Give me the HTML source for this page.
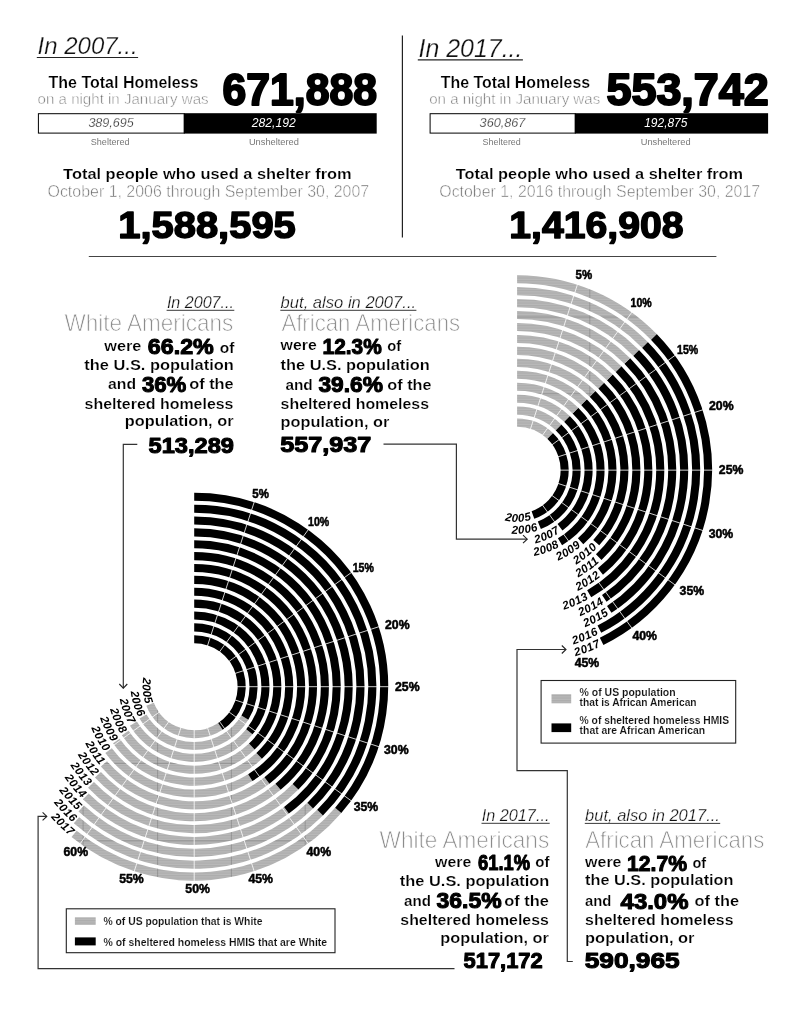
<!DOCTYPE html>
<html><head><meta charset="utf-8"><title>Homelessness 2007 vs 2017</title>
<style>html,body{margin:0;padding:0;background:#fff}body{width:805px;height:1024px;overflow:hidden;font-family:"Liberation Sans", sans-serif}svg{display:block;will-change:transform}text{white-space:pre}</style>
</head><body>
<svg width="805" height="1024" viewBox="0 0 805 1024" font-family='"Liberation Sans", sans-serif'>
<defs><pattern id="hatch" patternUnits="userSpaceOnUse" width="8" height="2.5"><rect width="8" height="2.5" fill="#b9b9b9"/><rect y="0" width="8" height="1.2" fill="#acacac"/></pattern></defs>
<rect x="0.00" y="0.00" width="805.00" height="1024.00" fill="#fff"/>
<text x="37.60" y="54.00" font-size="23.4" font-weight="normal" font-style="italic" fill="#111" textLength="100.00" lengthAdjust="spacingAndGlyphs" stroke="#fff" stroke-width="0.25" stroke-linejoin="round">In 2007...</text>
<line x1="36.80" y1="57.50" x2="138.10" y2="57.50" stroke="#222" stroke-width="1.1"/>
<text x="48.60" y="88.00" font-size="15.6" font-weight="bold" textLength="149.80" lengthAdjust="spacingAndGlyphs" stroke="#fff" stroke-width="0.2" stroke-linejoin="round">The Total Homeless</text>
<text x="37.60" y="103.60" font-size="15.5" font-weight="normal" fill="#6c6c6c" textLength="171.00" lengthAdjust="spacingAndGlyphs" stroke="#fff" stroke-width="0.55" stroke-linejoin="round">on a night in January was</text>
<text x="222.60" y="104.70" font-size="43.6" font-weight="bold" textLength="154.40" lengthAdjust="spacingAndGlyphs" stroke="#000" stroke-width="2.0" stroke-linejoin="round">671,888</text>
<rect x="38.40" y="113.70" width="145.90" height="19.40" fill="#fff" stroke="#000" stroke-width="1"/>
<rect x="183.80" y="113.20" width="192.90" height="20.40" fill="#000"/>
<text x="88.40" y="127.00" font-size="12.2" font-weight="normal" font-style="italic" fill="#222" textLength="45.40" lengthAdjust="spacingAndGlyphs" stroke="#fff" stroke-width="0.25" stroke-linejoin="round">389,695</text>
<text x="251.70" y="127.40" font-size="12.5" font-weight="normal" font-style="italic" fill="#fff" textLength="44.00" lengthAdjust="spacingAndGlyphs">282,192</text>
<text x="90.80" y="145.00" font-size="8.8" font-weight="normal" fill="#777" textLength="38.70" lengthAdjust="spacingAndGlyphs">Sheltered</text>
<text x="248.90" y="145.00" font-size="8.8" font-weight="normal" fill="#777" textLength="50.00" lengthAdjust="spacingAndGlyphs">Unsheltered</text>
<text x="63.10" y="179.20" font-size="15.3" font-weight="bold" textLength="288.60" lengthAdjust="spacingAndGlyphs" stroke="#fff" stroke-width="0.2" stroke-linejoin="round">Total people who used a shelter from</text>
<text x="47.50" y="197.30" font-size="16" font-weight="normal" fill="#6c6c6c" textLength="321.70" lengthAdjust="spacingAndGlyphs" stroke="#fff" stroke-width="0.55" stroke-linejoin="round">October 1, 2006 through September 30, 2007</text>
<text x="118.20" y="237.70" font-size="37.8" font-weight="bold" textLength="177.60" lengthAdjust="spacingAndGlyphs" stroke="#000" stroke-width="1.5" stroke-linejoin="round">1,588,595</text>
<text x="418.60" y="56.70" font-size="26" font-weight="normal" font-style="italic" fill="#111" textLength="103.80" lengthAdjust="spacingAndGlyphs" stroke="#fff" stroke-width="0.25" stroke-linejoin="round">In 2017...</text>
<line x1="417.80" y1="59.90" x2="522.90" y2="59.90" stroke="#222" stroke-width="1.1"/>
<text x="440.80" y="88.00" font-size="15.6" font-weight="bold" textLength="149.30" lengthAdjust="spacingAndGlyphs" stroke="#fff" stroke-width="0.2" stroke-linejoin="round">The Total Homeless</text>
<text x="429.20" y="103.60" font-size="15.5" font-weight="normal" fill="#6c6c6c" textLength="171.00" lengthAdjust="spacingAndGlyphs" stroke="#fff" stroke-width="0.55" stroke-linejoin="round">on a night in January was</text>
<text x="606.50" y="104.70" font-size="43.6" font-weight="bold" textLength="162.20" lengthAdjust="spacingAndGlyphs" stroke="#000" stroke-width="2.0" stroke-linejoin="round">553,742</text>
<rect x="430.10" y="113.70" width="145.20" height="19.40" fill="#fff" stroke="#000" stroke-width="1"/>
<rect x="574.80" y="113.20" width="193.30" height="20.40" fill="#000"/>
<text x="479.60" y="127.00" font-size="12.2" font-weight="normal" font-style="italic" fill="#222" textLength="45.80" lengthAdjust="spacingAndGlyphs" stroke="#fff" stroke-width="0.25" stroke-linejoin="round">360,867</text>
<text x="644.20" y="127.40" font-size="12.5" font-weight="normal" font-style="italic" fill="#fff" textLength="43.20" lengthAdjust="spacingAndGlyphs">192,875</text>
<text x="482.60" y="145.00" font-size="8.8" font-weight="normal" fill="#777" textLength="38.20" lengthAdjust="spacingAndGlyphs">Sheltered</text>
<text x="640.70" y="145.00" font-size="8.8" font-weight="normal" fill="#777" textLength="50.00" lengthAdjust="spacingAndGlyphs">Unsheltered</text>
<text x="455.80" y="179.20" font-size="15.3" font-weight="bold" textLength="287.30" lengthAdjust="spacingAndGlyphs" stroke="#fff" stroke-width="0.2" stroke-linejoin="round">Total people who used a shelter from</text>
<text x="439.30" y="197.30" font-size="16" font-weight="normal" fill="#6c6c6c" textLength="320.80" lengthAdjust="spacingAndGlyphs" stroke="#fff" stroke-width="0.55" stroke-linejoin="round">October 1, 2016 through September 30, 2017</text>
<text x="509.30" y="237.70" font-size="37.8" font-weight="bold" textLength="174.30" lengthAdjust="spacingAndGlyphs" stroke="#000" stroke-width="1.5" stroke-linejoin="round">1,416,908</text>
<line x1="402.40" y1="35.50" x2="402.40" y2="237.50" stroke="#222" stroke-width="1.2"/>
<line x1="88.80" y1="256.50" x2="716.40" y2="256.50" stroke="#444" stroke-width="1.2"/>
<path d="M220.38,726.28A47.45,47.45 0 0 1 150.08,704.17" fill="none" stroke="url(#hatch)" stroke-width="8.1"/>
<path d="M244.88,717.54A59.32,59.32 0 0 1 142.95,716.57" fill="none" stroke="url(#hatch)" stroke-width="8.1"/>
<path d="M249.34,731.73A71.19,71.19 0 0 1 133.38,723.71" fill="none" stroke="url(#hatch)" stroke-width="8.1"/>
<path d="M251.81,746.53A83.06,83.06 0 0 1 125.21,732.95" fill="none" stroke="url(#hatch)" stroke-width="8.1"/>
<path d="M259.18,755.90A94.93,94.93 0 0 1 116.36,741.04" fill="none" stroke="url(#hatch)" stroke-width="8.1"/>
<path d="M250.29,777.59A106.80,106.80 0 0 1 108.59,750.56" fill="none" stroke="url(#hatch)" stroke-width="8.1"/>
<path d="M266.93,780.47A118.67,118.67 0 0 1 103.96,763.77" fill="none" stroke="url(#hatch)" stroke-width="8.1"/>
<path d="M278.04,786.76A130.54,130.54 0 0 1 97.93,774.86" fill="none" stroke="url(#hatch)" stroke-width="8.1"/>
<path d="M295.53,786.76A142.41,142.41 0 0 1 91.00,784.84" fill="none" stroke="url(#hatch)" stroke-width="8.1"/>
<path d="M286.44,810.37A154.28,154.28 0 0 1 85.80,796.48" fill="none" stroke="url(#hatch)" stroke-width="8.1"/>
<path d="M310.20,805.65A166.15,166.15 0 0 1 81.23,808.53" fill="none" stroke="url(#hatch)" stroke-width="8.1"/>
<path d="M320.08,812.58A178.02,178.02 0 0 1 76.47,820.23" fill="none" stroke="url(#hatch)" stroke-width="8.1"/>
<path d="M338.21,810.48A189.89,189.89 0 0 1 74.08,833.77" fill="none" stroke="url(#hatch)" stroke-width="8.1"/>
<path d="M194.20,639.25A47.45,47.45 0 0 1 220.38,726.28" fill="none" stroke="#000" stroke-width="8.1"/>
<path d="M194.20,627.38A59.32,59.32 0 0 1 244.88,717.54" fill="none" stroke="#000" stroke-width="8.1"/>
<path d="M194.20,615.51A71.19,71.19 0 0 1 249.34,731.73" fill="none" stroke="#000" stroke-width="8.1"/>
<path d="M194.20,603.64A83.06,83.06 0 0 1 251.81,746.53" fill="none" stroke="#000" stroke-width="8.1"/>
<path d="M194.20,591.77A94.93,94.93 0 0 1 259.18,755.90" fill="none" stroke="#000" stroke-width="8.1"/>
<path d="M194.20,579.90A106.80,106.80 0 0 1 250.29,777.59" fill="none" stroke="#000" stroke-width="8.1"/>
<path d="M194.20,568.03A118.67,118.67 0 0 1 266.93,780.47" fill="none" stroke="#000" stroke-width="8.1"/>
<path d="M194.20,556.16A130.54,130.54 0 0 1 278.04,786.76" fill="none" stroke="#000" stroke-width="8.1"/>
<path d="M194.20,544.29A142.41,142.41 0 0 1 295.53,786.76" fill="none" stroke="#000" stroke-width="8.1"/>
<path d="M194.20,532.42A154.28,154.28 0 0 1 286.44,810.37" fill="none" stroke="#000" stroke-width="8.1"/>
<path d="M194.20,520.55A166.15,166.15 0 0 1 310.20,805.65" fill="none" stroke="#000" stroke-width="8.1"/>
<path d="M194.20,508.68A178.02,178.02 0 0 1 320.08,812.58" fill="none" stroke="#000" stroke-width="8.1"/>
<path d="M194.20,496.81A189.89,189.89 0 0 1 338.21,810.48" fill="none" stroke="#000" stroke-width="8.1"/>
<mask id="tm1" maskUnits="userSpaceOnUse" x="0" y="0" width="805" height="1024">
<path d="M220.38,726.28A47.45,47.45 0 0 1 150.08,704.17" fill="none" stroke="#fff" stroke-width="8.1"/>
<path d="M244.88,717.54A59.32,59.32 0 0 1 142.95,716.57" fill="none" stroke="#fff" stroke-width="8.1"/>
<path d="M249.34,731.73A71.19,71.19 0 0 1 133.38,723.71" fill="none" stroke="#fff" stroke-width="8.1"/>
<path d="M251.81,746.53A83.06,83.06 0 0 1 125.21,732.95" fill="none" stroke="#fff" stroke-width="8.1"/>
<path d="M259.18,755.90A94.93,94.93 0 0 1 116.36,741.04" fill="none" stroke="#fff" stroke-width="8.1"/>
<path d="M250.29,777.59A106.80,106.80 0 0 1 108.59,750.56" fill="none" stroke="#fff" stroke-width="8.1"/>
<path d="M266.93,780.47A118.67,118.67 0 0 1 103.96,763.77" fill="none" stroke="#fff" stroke-width="8.1"/>
<path d="M278.04,786.76A130.54,130.54 0 0 1 97.93,774.86" fill="none" stroke="#fff" stroke-width="8.1"/>
<path d="M295.53,786.76A142.41,142.41 0 0 1 91.00,784.84" fill="none" stroke="#fff" stroke-width="8.1"/>
<path d="M286.44,810.37A154.28,154.28 0 0 1 85.80,796.48" fill="none" stroke="#fff" stroke-width="8.1"/>
<path d="M310.20,805.65A166.15,166.15 0 0 1 81.23,808.53" fill="none" stroke="#fff" stroke-width="8.1"/>
<path d="M320.08,812.58A178.02,178.02 0 0 1 76.47,820.23" fill="none" stroke="#fff" stroke-width="8.1"/>
<path d="M338.21,810.48A189.89,189.89 0 0 1 74.08,833.77" fill="none" stroke="#fff" stroke-width="8.1"/>
</mask>
<g mask="url(#tm1)" stroke="#777" stroke-width="0.9" stroke-opacity="0.55">
<line x1="83.1" y1="486.70000000000005" x2="83.1" y2="886.7"/>
<line x1="157.6" y1="486.70000000000005" x2="157.6" y2="886.7"/>
<line x1="231.4" y1="486.70000000000005" x2="231.4" y2="886.7"/>
<line x1="305.2" y1="486.70000000000005" x2="305.2" y2="886.7"/>
<line x1="-5.800000000000011" y1="763.4" x2="394.2" y2="763.4"/>
<line x1="-5.800000000000011" y1="840.9" x2="394.2" y2="840.9"/>
</g>
<line x1="207.18" y1="646.76" x2="254.77" y2="500.29" stroke="#fff" stroke-width="1" stroke-opacity="0.8"/>
<line x1="218.89" y1="652.72" x2="309.41" y2="528.13" stroke="#fff" stroke-width="1" stroke-opacity="0.8"/>
<line x1="228.18" y1="662.01" x2="352.77" y2="571.49" stroke="#fff" stroke-width="1" stroke-opacity="0.8"/>
<line x1="234.14" y1="673.72" x2="380.61" y2="626.13" stroke="#fff" stroke-width="1" stroke-opacity="0.8"/>
<line x1="236.20" y1="686.70" x2="390.20" y2="686.70" stroke="#fff" stroke-width="1" stroke-opacity="0.8"/>
<line x1="234.14" y1="699.68" x2="380.61" y2="747.27" stroke="#fff" stroke-width="1" stroke-opacity="0.8"/>
<line x1="228.18" y1="711.39" x2="352.77" y2="801.91" stroke="#fff" stroke-width="1" stroke-opacity="0.8"/>
<line x1="218.89" y1="720.68" x2="309.41" y2="845.27" stroke="#fff" stroke-width="1" stroke-opacity="0.8"/>
<line x1="207.18" y1="726.64" x2="254.77" y2="873.11" stroke="#fff" stroke-width="1" stroke-opacity="0.8"/>
<line x1="194.20" y1="728.70" x2="194.20" y2="882.70" stroke="#fff" stroke-width="1" stroke-opacity="0.8"/>
<line x1="181.22" y1="726.64" x2="133.63" y2="873.11" stroke="#fff" stroke-width="1" stroke-opacity="0.8"/>
<line x1="169.51" y1="720.68" x2="78.99" y2="845.27" stroke="#fff" stroke-width="1" stroke-opacity="0.8"/>
<line x1="160.22" y1="711.39" x2="35.63" y2="801.91" stroke="#fff" stroke-width="1" stroke-opacity="0.8"/>
<path id="yp1" d="M149.39,661.13A51.59,51.59 0 0 0 145.80,704.57" fill="none"/>
<text font-size="11.5" font-weight="bold" font-style="italic" letter-spacing="0.45" text-anchor="end"><textPath href="#yp1" startOffset="100%">2005</textPath></text>
<path id="yp2" d="M132.01,674.08A63.46,63.46 0 0 0 138.78,717.62" fill="none"/>
<text font-size="11.5" font-weight="bold" font-style="italic" letter-spacing="0.45" text-anchor="end"><textPath href="#yp2" startOffset="100%">2006</textPath></text>
<path id="yp3" d="M119.04,681.68A75.33,75.33 0 0 0 129.23,724.83" fill="none"/>
<text font-size="11.5" font-weight="bold" font-style="italic" letter-spacing="0.45" text-anchor="end"><textPath href="#yp3" startOffset="100%">2007</textPath></text>
<path id="yp4" d="M107.16,692.00A87.20,87.20 0 0 0 121.11,734.26" fill="none"/>
<text font-size="11.5" font-weight="bold" font-style="italic" letter-spacing="0.45" text-anchor="end"><textPath href="#yp4" startOffset="100%">2008</textPath></text>
<path id="yp5" d="M96.14,700.83A99.07,99.07 0 0 0 112.29,742.42" fill="none"/>
<text font-size="11.5" font-weight="bold" font-style="italic" letter-spacing="0.45" text-anchor="end"><textPath href="#yp5" startOffset="100%">2009</textPath></text>
<path id="yp6" d="M86.04,711.39A110.94,110.94 0 0 0 104.56,752.07" fill="none"/>
<text font-size="11.5" font-weight="bold" font-style="italic" letter-spacing="0.45" text-anchor="end"><textPath href="#yp6" startOffset="100%">2010</textPath></text>
<path id="yp7" d="M78.04,726.57A122.81,122.81 0 0 0 100.04,765.54" fill="none"/>
<text font-size="11.5" font-weight="bold" font-style="italic" letter-spacing="0.45" text-anchor="end"><textPath href="#yp7" startOffset="100%">2011</textPath></text>
<path id="yp8" d="M70.07,738.95A134.68,134.68 0 0 0 94.07,776.77" fill="none"/>
<text font-size="11.5" font-weight="bold" font-style="italic" letter-spacing="0.45" text-anchor="end"><textPath href="#yp8" startOffset="100%">2012</textPath></text>
<path id="yp9" d="M61.92,749.79A146.55,146.55 0 0 0 87.18,786.82" fill="none"/>
<text font-size="11.5" font-weight="bold" font-style="italic" letter-spacing="0.45" text-anchor="end"><textPath href="#yp9" startOffset="100%">2013</textPath></text>
<path id="yp10" d="M55.18,762.66A158.42,158.42 0 0 0 82.04,798.58" fill="none"/>
<text font-size="11.5" font-weight="bold" font-style="italic" letter-spacing="0.45" text-anchor="end"><textPath href="#yp10" startOffset="100%">2014</textPath></text>
<path id="yp11" d="M49.18,775.97A170.29,170.29 0 0 0 77.53,810.75" fill="none"/>
<text font-size="11.5" font-weight="bold" font-style="italic" letter-spacing="0.45" text-anchor="end"><textPath href="#yp11" startOffset="100%">2015</textPath></text>
<path id="yp12" d="M43.30,788.74A182.16,182.16 0 0 0 72.84,822.54" fill="none"/>
<text font-size="11.5" font-weight="bold" font-style="italic" letter-spacing="0.45" text-anchor="end"><textPath href="#yp12" startOffset="100%">2016</textPath></text>
<path id="yp13" d="M39.48,803.79A194.03,194.03 0 0 0 70.54,836.21" fill="none"/>
<text font-size="11.5" font-weight="bold" font-style="italic" letter-spacing="0.45" text-anchor="end"><textPath href="#yp13" startOffset="100%">2017</textPath></text>
<text x="252.30" y="497.70" font-size="12" font-weight="bold" textLength="16.60" lengthAdjust="spacingAndGlyphs" stroke="#000" stroke-width="0.5" stroke-linejoin="round">5%</text>
<text x="308.00" y="525.50" font-size="12" font-weight="bold" textLength="21.20" lengthAdjust="spacingAndGlyphs" stroke="#000" stroke-width="0.5" stroke-linejoin="round">10%</text>
<text x="352.70" y="572.20" font-size="12" font-weight="bold" textLength="21.20" lengthAdjust="spacingAndGlyphs" stroke="#000" stroke-width="0.5" stroke-linejoin="round">15%</text>
<text x="385.00" y="628.80" font-size="12" font-weight="bold" textLength="24.60" lengthAdjust="spacingAndGlyphs" stroke="#000" stroke-width="0.5" stroke-linejoin="round">20%</text>
<text x="395.00" y="690.90" font-size="12" font-weight="bold" textLength="24.60" lengthAdjust="spacingAndGlyphs" stroke="#000" stroke-width="0.5" stroke-linejoin="round">25%</text>
<text x="384.00" y="754.10" font-size="12" font-weight="bold" textLength="24.60" lengthAdjust="spacingAndGlyphs" stroke="#000" stroke-width="0.5" stroke-linejoin="round">30%</text>
<text x="353.70" y="811.20" font-size="12" font-weight="bold" textLength="24.60" lengthAdjust="spacingAndGlyphs" stroke="#000" stroke-width="0.5" stroke-linejoin="round">35%</text>
<text x="306.50" y="855.90" font-size="12" font-weight="bold" textLength="24.60" lengthAdjust="spacingAndGlyphs" stroke="#000" stroke-width="0.5" stroke-linejoin="round">40%</text>
<text x="248.40" y="883.20" font-size="12" font-weight="bold" textLength="24.60" lengthAdjust="spacingAndGlyphs" stroke="#000" stroke-width="0.5" stroke-linejoin="round">45%</text>
<text x="185.30" y="893.20" font-size="12" font-weight="bold" textLength="24.60" lengthAdjust="spacingAndGlyphs" stroke="#000" stroke-width="0.5" stroke-linejoin="round">50%</text>
<text x="119.20" y="883.20" font-size="12" font-weight="bold" textLength="24.60" lengthAdjust="spacingAndGlyphs" stroke="#000" stroke-width="0.5" stroke-linejoin="round">55%</text>
<text x="63.50" y="855.90" font-size="12" font-weight="bold" textLength="24.60" lengthAdjust="spacingAndGlyphs" stroke="#000" stroke-width="0.5" stroke-linejoin="round">60%</text>
<path d="M550.08,435.90A47.55,47.55 0 0 1 532.93,514.99" fill="none" stroke="#000" stroke-width="8.1"/>
<path d="M558.48,427.40A59.50,59.50 0 0 1 539.35,525.33" fill="none" stroke="#000" stroke-width="8.1"/>
<path d="M566.93,418.94A71.45,71.45 0 0 1 560.00,527.29" fill="none" stroke="#000" stroke-width="8.1"/>
<path d="M575.42,410.53A83.40,83.40 0 0 1 560.00,541.67" fill="none" stroke="#000" stroke-width="8.1"/>
<path d="M583.96,402.16A95.35,95.35 0 0 1 580.60,541.28" fill="none" stroke="#000" stroke-width="8.1"/>
<path d="M592.53,393.84A107.30,107.30 0 0 1 596.24,542.61" fill="none" stroke="#000" stroke-width="8.1"/>
<path d="M601.16,385.56A119.25,119.25 0 0 1 598.73,557.08" fill="none" stroke="#000" stroke-width="8.1"/>
<path d="M609.82,377.33A131.20,131.20 0 0 1 600.41,571.50" fill="none" stroke="#000" stroke-width="8.1"/>
<path d="M618.53,369.14A143.15,143.15 0 0 1 589.19,593.82" fill="none" stroke="#000" stroke-width="8.1"/>
<path d="M627.29,361.00A155.10,155.10 0 0 1 604.28,598.43" fill="none" stroke="#000" stroke-width="8.1"/>
<path d="M636.08,352.90A167.05,167.05 0 0 1 609.25,609.48" fill="none" stroke="#000" stroke-width="8.1"/>
<path d="M644.93,344.84A179.00,179.00 0 0 1 599.36,629.13" fill="none" stroke="#000" stroke-width="8.1"/>
<path d="M653.81,336.84A190.95,190.95 0 0 1 601.64,641.36" fill="none" stroke="#000" stroke-width="8.1"/>
<path d="M517.10,422.60A47.55,47.55 0 0 1 550.08,435.90" fill="none" stroke="url(#hatch)" stroke-width="8.1"/>
<path d="M517.10,410.65A59.50,59.50 0 0 1 558.48,427.40" fill="none" stroke="url(#hatch)" stroke-width="8.1"/>
<path d="M517.10,398.70A71.45,71.45 0 0 1 566.93,418.94" fill="none" stroke="url(#hatch)" stroke-width="8.1"/>
<path d="M517.10,386.75A83.40,83.40 0 0 1 575.42,410.53" fill="none" stroke="url(#hatch)" stroke-width="8.1"/>
<path d="M517.10,374.80A95.35,95.35 0 0 1 583.96,402.16" fill="none" stroke="url(#hatch)" stroke-width="8.1"/>
<path d="M517.10,362.85A107.30,107.30 0 0 1 592.53,393.84" fill="none" stroke="url(#hatch)" stroke-width="8.1"/>
<path d="M517.10,350.90A119.25,119.25 0 0 1 601.16,385.56" fill="none" stroke="url(#hatch)" stroke-width="8.1"/>
<path d="M517.10,338.95A131.20,131.20 0 0 1 609.82,377.33" fill="none" stroke="url(#hatch)" stroke-width="8.1"/>
<path d="M517.10,327.00A143.15,143.15 0 0 1 618.53,369.14" fill="none" stroke="url(#hatch)" stroke-width="8.1"/>
<path d="M517.10,315.05A155.10,155.10 0 0 1 627.29,361.00" fill="none" stroke="url(#hatch)" stroke-width="8.1"/>
<path d="M517.10,303.10A167.05,167.05 0 0 1 636.08,352.90" fill="none" stroke="url(#hatch)" stroke-width="8.1"/>
<path d="M517.10,291.15A179.00,179.00 0 0 1 644.93,344.84" fill="none" stroke="url(#hatch)" stroke-width="8.1"/>
<path d="M517.10,279.20A190.95,190.95 0 0 1 653.81,336.84" fill="none" stroke="url(#hatch)" stroke-width="8.1"/>
<mask id="tm2" maskUnits="userSpaceOnUse" x="0" y="0" width="805" height="1024">
<path d="M517.10,422.60A47.55,47.55 0 0 1 550.08,435.90" fill="none" stroke="#fff" stroke-width="8.1"/>
<path d="M517.10,410.65A59.50,59.50 0 0 1 558.48,427.40" fill="none" stroke="#fff" stroke-width="8.1"/>
<path d="M517.10,398.70A71.45,71.45 0 0 1 566.93,418.94" fill="none" stroke="#fff" stroke-width="8.1"/>
<path d="M517.10,386.75A83.40,83.40 0 0 1 575.42,410.53" fill="none" stroke="#fff" stroke-width="8.1"/>
<path d="M517.10,374.80A95.35,95.35 0 0 1 583.96,402.16" fill="none" stroke="#fff" stroke-width="8.1"/>
<path d="M517.10,362.85A107.30,107.30 0 0 1 592.53,393.84" fill="none" stroke="#fff" stroke-width="8.1"/>
<path d="M517.10,350.90A119.25,119.25 0 0 1 601.16,385.56" fill="none" stroke="#fff" stroke-width="8.1"/>
<path d="M517.10,338.95A131.20,131.20 0 0 1 609.82,377.33" fill="none" stroke="#fff" stroke-width="8.1"/>
<path d="M517.10,327.00A143.15,143.15 0 0 1 618.53,369.14" fill="none" stroke="#fff" stroke-width="8.1"/>
<path d="M517.10,315.05A155.10,155.10 0 0 1 627.29,361.00" fill="none" stroke="#fff" stroke-width="8.1"/>
<path d="M517.10,303.10A167.05,167.05 0 0 1 636.08,352.90" fill="none" stroke="#fff" stroke-width="8.1"/>
<path d="M517.10,291.15A179.00,179.00 0 0 1 644.93,344.84" fill="none" stroke="#fff" stroke-width="8.1"/>
<path d="M517.10,279.20A190.95,190.95 0 0 1 653.81,336.84" fill="none" stroke="#fff" stroke-width="8.1"/>
</mask>
<g mask="url(#tm2)" stroke="#777" stroke-width="0.9" stroke-opacity="0.55">
<line x1="589.8" y1="270.15" x2="589.8" y2="670.15"/>
<line x1="317.1" y1="317" x2="717.1" y2="317"/>
<line x1="317.1" y1="393.8" x2="717.1" y2="393.8"/>
</g>
<line x1="530.08" y1="430.21" x2="577.67" y2="283.74" stroke="#fff" stroke-width="1" stroke-opacity="0.8"/>
<line x1="541.79" y1="436.17" x2="632.31" y2="311.58" stroke="#fff" stroke-width="1" stroke-opacity="0.8"/>
<line x1="551.08" y1="445.46" x2="675.67" y2="354.94" stroke="#fff" stroke-width="1" stroke-opacity="0.8"/>
<line x1="557.04" y1="457.17" x2="703.51" y2="409.58" stroke="#fff" stroke-width="1" stroke-opacity="0.8"/>
<line x1="559.10" y1="470.15" x2="713.10" y2="470.15" stroke="#fff" stroke-width="1" stroke-opacity="0.8"/>
<line x1="557.04" y1="483.13" x2="703.51" y2="530.72" stroke="#fff" stroke-width="1" stroke-opacity="0.8"/>
<line x1="551.08" y1="494.84" x2="675.67" y2="585.36" stroke="#fff" stroke-width="1" stroke-opacity="0.8"/>
<line x1="541.79" y1="504.13" x2="632.31" y2="628.72" stroke="#fff" stroke-width="1" stroke-opacity="0.8"/>
<line x1="530.08" y1="510.09" x2="577.67" y2="656.56" stroke="#fff" stroke-width="1" stroke-opacity="0.8"/>
<path id="yp14" d="M488.70,513.34A51.69,51.69 0 0 0 531.83,519.70" fill="none"/>
<text font-size="11.5" font-weight="bold" font-style="italic" letter-spacing="0.45" text-anchor="end"><textPath href="#yp14" startOffset="100%">2005</textPath></text>
<path id="yp15" d="M494.40,529.60A63.64,63.64 0 0 0 538.47,530.10" fill="none"/>
<text font-size="11.5" font-weight="bold" font-style="italic" letter-spacing="0.45" text-anchor="end"><textPath href="#yp15" startOffset="100%">2006</textPath></text>
<path id="yp16" d="M518.18,545.73A75.59,75.59 0 0 0 560.38,532.12" fill="none"/>
<text font-size="11.5" font-weight="bold" font-style="italic" letter-spacing="0.45" text-anchor="end"><textPath href="#yp16" startOffset="100%">2007</textPath></text>
<path id="yp17" d="M516.80,557.69A87.54,87.54 0 0 0 559.88,546.52" fill="none"/>
<text font-size="11.5" font-weight="bold" font-style="italic" letter-spacing="0.45" text-anchor="end"><textPath href="#yp17" startOffset="100%">2008</textPath></text>
<path id="yp18" d="M541.75,566.54A99.49,99.49 0 0 0 581.40,546.07" fill="none"/>
<text font-size="11.5" font-weight="bold" font-style="italic" letter-spacing="0.45" text-anchor="end"><textPath href="#yp18" startOffset="100%">2009</textPath></text>
<path id="yp19" d="M560.73,572.70A111.44,111.44 0 0 0 597.51,547.31" fill="none"/>
<text font-size="11.5" font-weight="bold" font-style="italic" letter-spacing="0.45" text-anchor="end"><textPath href="#yp19" startOffset="100%">2010</textPath></text>
<path id="yp20" d="M561.51,585.27A123.39,123.39 0 0 0 599.65,561.86" fill="none"/>
<text font-size="11.5" font-weight="bold" font-style="italic" letter-spacing="0.45" text-anchor="end"><textPath href="#yp20" startOffset="100%">2011</textPath></text>
<path id="yp21" d="M561.76,597.91A135.34,135.34 0 0 0 601.02,576.33" fill="none"/>
<text font-size="11.5" font-weight="bold" font-style="italic" letter-spacing="0.45" text-anchor="end"><textPath href="#yp21" startOffset="100%">2012</textPath></text>
<path id="yp22" d="M547.03,614.37A147.29,147.29 0 0 0 589.02,598.69" fill="none"/>
<text font-size="11.5" font-weight="bold" font-style="italic" letter-spacing="0.45" text-anchor="end"><textPath href="#yp22" startOffset="100%">2013</textPath></text>
<path id="yp23" d="M563.85,622.37A159.24,159.24 0 0 0 604.44,603.30" fill="none"/>
<text font-size="11.5" font-weight="bold" font-style="italic" letter-spacing="0.45" text-anchor="end"><textPath href="#yp23" startOffset="100%">2014</textPath></text>
<path id="yp24" d="M568.72,633.37A171.19,171.19 0 0 0 609.36,614.35" fill="none"/>
<text font-size="11.5" font-weight="bold" font-style="italic" letter-spacing="0.45" text-anchor="end"><textPath href="#yp24" startOffset="100%">2015</textPath></text>
<path id="yp25" d="M556.64,648.97A183.14,183.14 0 0 0 598.95,633.98" fill="none"/>
<text font-size="11.5" font-weight="bold" font-style="italic" letter-spacing="0.45" text-anchor="end"><textPath href="#yp25" startOffset="100%">2016</textPath></text>
<path id="yp26" d="M558.66,660.76A195.09,195.09 0 0 0 601.14,646.21" fill="none"/>
<text font-size="11.5" font-weight="bold" font-style="italic" letter-spacing="0.45" text-anchor="end"><textPath href="#yp26" startOffset="100%">2017</textPath></text>
<text x="575.60" y="278.70" font-size="12" font-weight="bold" textLength="16.60" lengthAdjust="spacingAndGlyphs" stroke="#000" stroke-width="0.5" stroke-linejoin="round">5%</text>
<text x="630.50" y="306.70" font-size="12" font-weight="bold" textLength="21.20" lengthAdjust="spacingAndGlyphs" stroke="#000" stroke-width="0.5" stroke-linejoin="round">10%</text>
<text x="677.10" y="354.10" font-size="12" font-weight="bold" textLength="21.20" lengthAdjust="spacingAndGlyphs" stroke="#000" stroke-width="0.5" stroke-linejoin="round">15%</text>
<text x="709.00" y="410.20" font-size="12" font-weight="bold" textLength="24.60" lengthAdjust="spacingAndGlyphs" stroke="#000" stroke-width="0.5" stroke-linejoin="round">20%</text>
<text x="718.80" y="473.60" font-size="12" font-weight="bold" textLength="24.60" lengthAdjust="spacingAndGlyphs" stroke="#000" stroke-width="0.5" stroke-linejoin="round">25%</text>
<text x="708.70" y="538.00" font-size="12" font-weight="bold" textLength="24.60" lengthAdjust="spacingAndGlyphs" stroke="#000" stroke-width="0.5" stroke-linejoin="round">30%</text>
<text x="679.60" y="594.90" font-size="12" font-weight="bold" textLength="24.60" lengthAdjust="spacingAndGlyphs" stroke="#000" stroke-width="0.5" stroke-linejoin="round">35%</text>
<text x="632.40" y="640.10" font-size="12" font-weight="bold" textLength="24.60" lengthAdjust="spacingAndGlyphs" stroke="#000" stroke-width="0.5" stroke-linejoin="round">40%</text>
<text x="574.70" y="666.70" font-size="12" font-weight="bold" textLength="24.60" lengthAdjust="spacingAndGlyphs" stroke="#000" stroke-width="0.5" stroke-linejoin="round">45%</text>
<rect x="66.30" y="908.80" width="268.70" height="43.90" fill="none" stroke="#222" stroke-width="1.1"/>
<rect x="74.90" y="917.30" width="20.80" height="7.60" fill="url(#hatch)"/>
<rect x="74.90" y="937.40" width="20.80" height="8.00" fill="#000"/>
<text x="103.50" y="925.30" font-size="10.3" font-weight="bold" fill="#111" textLength="159.00" lengthAdjust="spacingAndGlyphs" stroke="#fff" stroke-width="0.12" stroke-linejoin="round">% of US population that is White</text>
<text x="103.50" y="945.70" font-size="10.3" font-weight="bold" fill="#111" textLength="223.60" lengthAdjust="spacingAndGlyphs" stroke="#fff" stroke-width="0.12" stroke-linejoin="round">% of sheltered homeless HMIS that are White</text>
<rect x="541.10" y="680.50" width="194.60" height="62.60" fill="none" stroke="#222" stroke-width="1.1"/>
<rect x="551.50" y="694.20" width="19.70" height="9.10" fill="url(#hatch)"/>
<rect x="551.50" y="723.40" width="19.70" height="8.70" fill="#000"/>
<text x="579.60" y="695.80" font-size="10.1" font-weight="bold" fill="#111" textLength="96.00" lengthAdjust="spacingAndGlyphs" stroke="#fff" stroke-width="0.12" stroke-linejoin="round">% of US population</text>
<text x="579.60" y="705.90" font-size="10.1" font-weight="bold" fill="#111" textLength="117.00" lengthAdjust="spacingAndGlyphs" stroke="#fff" stroke-width="0.12" stroke-linejoin="round">that is African American</text>
<text x="579.60" y="724.20" font-size="10.1" font-weight="bold" fill="#111" textLength="149.50" lengthAdjust="spacingAndGlyphs" stroke="#fff" stroke-width="0.12" stroke-linejoin="round">% of sheltered homeless HMIS</text>
<text x="579.60" y="734.30" font-size="10.1" font-weight="bold" fill="#111" textLength="125.50" lengthAdjust="spacingAndGlyphs" stroke="#fff" stroke-width="0.12" stroke-linejoin="round">that are African American</text>
<polyline fill="none" stroke="#333" stroke-width="1.2" points="137.30,444.30 123.30,444.30 123.30,688.20"/>
<polyline fill="none" stroke="#222" stroke-width="1.1" points="119.30,684.00 123.30,688.20 127.30,684.00"/>
<polyline fill="none" stroke="#333" stroke-width="1.2" points="454.50,968.70 38.10,968.70 38.10,816.40 46.80,816.40"/>
<polyline fill="none" stroke="#222" stroke-width="1.1" points="42.60,812.40 46.80,816.40 42.60,820.40"/>
<polyline fill="none" stroke="#333" stroke-width="1.2" points="383.50,444.20 456.40,444.20 456.40,539.20 527.20,539.20"/>
<polyline fill="none" stroke="#222" stroke-width="1.1" points="523.00,535.20 527.20,539.20 523.00,543.20"/>
<polyline fill="none" stroke="#333" stroke-width="1.2" points="572.80,961.50 567.30,961.50 567.30,770.70 517.00,770.70 517.00,649.50 566.00,649.50"/>
<polyline fill="none" stroke="#222" stroke-width="1.1" points="561.80,645.50 566.00,649.50 561.80,653.50"/>
<text x="166.90" y="307.80" font-size="16.4" font-weight="normal" font-style="italic" fill="#111" textLength="67.10" lengthAdjust="spacingAndGlyphs" stroke="#fff" stroke-width="0.25" stroke-linejoin="round">In 2007...</text>
<line x1="166.60" y1="310.30" x2="234.30" y2="310.30" stroke="#222" stroke-width="0.9"/>
<text x="64.50" y="330.80" font-size="23.2" font-weight="normal" fill="#8c8c8c" textLength="168.80" lengthAdjust="spacingAndGlyphs" stroke="#fff" stroke-width="0.75" stroke-linejoin="round">White Americans</text>
<text x="104.30" y="350.90" font-size="14.8" font-weight="bold" textLength="37.10" lengthAdjust="spacingAndGlyphs" stroke="#fff" stroke-width="0.2" stroke-linejoin="round">were</text>
<text x="147.80" y="354.00" font-size="22.8" font-weight="bold" textLength="66.00" lengthAdjust="spacingAndGlyphs" stroke="#000" stroke-width="1.1" stroke-linejoin="round">66.2%</text>
<text x="219.70" y="353.30" font-size="14.8" font-weight="bold" textLength="14.60" lengthAdjust="spacingAndGlyphs" stroke="#fff" stroke-width="0.2" stroke-linejoin="round">of</text>
<text x="84.30" y="369.70" font-size="14.8" font-weight="bold" textLength="149.50" lengthAdjust="spacingAndGlyphs" stroke="#fff" stroke-width="0.2" stroke-linejoin="round">the U.S. population</text>
<text x="108.00" y="388.80" font-size="14.8" font-weight="bold" textLength="28.00" lengthAdjust="spacingAndGlyphs" stroke="#fff" stroke-width="0.2" stroke-linejoin="round">and</text>
<text x="141.90" y="391.70" font-size="22.8" font-weight="bold" textLength="44.40" lengthAdjust="spacingAndGlyphs" stroke="#000" stroke-width="1.1" stroke-linejoin="round">36%</text>
<text x="189.20" y="389.20" font-size="14.8" font-weight="bold" textLength="44.50" lengthAdjust="spacingAndGlyphs" stroke="#fff" stroke-width="0.2" stroke-linejoin="round">of the</text>
<text x="84.60" y="408.50" font-size="14.8" font-weight="bold" textLength="148.90" lengthAdjust="spacingAndGlyphs" stroke="#fff" stroke-width="0.2" stroke-linejoin="round">sheltered homeless</text>
<text x="124.80" y="426.00" font-size="14.8" font-weight="bold" textLength="108.70" lengthAdjust="spacingAndGlyphs" stroke="#fff" stroke-width="0.2" stroke-linejoin="round">population, or</text>
<text x="148.60" y="452.50" font-size="22.2" font-weight="bold" textLength="85.40" lengthAdjust="spacingAndGlyphs" stroke="#000" stroke-width="1.1" stroke-linejoin="round">513,289</text>
<text x="280.60" y="307.80" font-size="16.4" font-weight="normal" font-style="italic" fill="#111" textLength="135.50" lengthAdjust="spacingAndGlyphs" stroke="#fff" stroke-width="0.25" stroke-linejoin="round">but, also in 2007...</text>
<line x1="280.30" y1="310.30" x2="416.40" y2="310.30" stroke="#222" stroke-width="0.9"/>
<text x="281.40" y="331.00" font-size="23.2" font-weight="normal" fill="#8c8c8c" textLength="178.70" lengthAdjust="spacingAndGlyphs" stroke="#fff" stroke-width="0.75" stroke-linejoin="round">African Americans</text>
<text x="280.60" y="350.40" font-size="14.8" font-weight="bold" textLength="36.10" lengthAdjust="spacingAndGlyphs" stroke="#fff" stroke-width="0.2" stroke-linejoin="round">were</text>
<text x="322.60" y="353.70" font-size="22.8" font-weight="bold" textLength="59.10" lengthAdjust="spacingAndGlyphs" stroke="#000" stroke-width="1.1" stroke-linejoin="round">12.3%</text>
<text x="387.30" y="350.90" font-size="14.8" font-weight="bold" textLength="13.90" lengthAdjust="spacingAndGlyphs" stroke="#fff" stroke-width="0.2" stroke-linejoin="round">of</text>
<text x="280.60" y="369.50" font-size="14.8" font-weight="bold" textLength="149.20" lengthAdjust="spacingAndGlyphs" stroke="#fff" stroke-width="0.2" stroke-linejoin="round">the U.S. population</text>
<text x="285.40" y="389.70" font-size="14.8" font-weight="bold" textLength="27.30" lengthAdjust="spacingAndGlyphs" stroke="#fff" stroke-width="0.2" stroke-linejoin="round">and</text>
<text x="318.40" y="392.00" font-size="22.8" font-weight="bold" textLength="64.50" lengthAdjust="spacingAndGlyphs" stroke="#000" stroke-width="1.1" stroke-linejoin="round">39.6%</text>
<text x="387.30" y="389.50" font-size="14.8" font-weight="bold" textLength="44.20" lengthAdjust="spacingAndGlyphs" stroke="#fff" stroke-width="0.2" stroke-linejoin="round">of the</text>
<text x="280.60" y="408.90" font-size="14.8" font-weight="bold" textLength="148.40" lengthAdjust="spacingAndGlyphs" stroke="#fff" stroke-width="0.2" stroke-linejoin="round">sheltered homeless</text>
<text x="280.60" y="426.50" font-size="14.8" font-weight="bold" textLength="108.70" lengthAdjust="spacingAndGlyphs" stroke="#fff" stroke-width="0.2" stroke-linejoin="round">population, or</text>
<text x="280.20" y="452.30" font-size="22.2" font-weight="bold" textLength="91.20" lengthAdjust="spacingAndGlyphs" stroke="#000" stroke-width="1.1" stroke-linejoin="round">557,937</text>
<text x="481.80" y="820.80" font-size="16.4" font-weight="normal" font-style="italic" fill="#111" textLength="67.60" lengthAdjust="spacingAndGlyphs" stroke="#fff" stroke-width="0.25" stroke-linejoin="round">In 2017...</text>
<line x1="481.50" y1="823.30" x2="549.70" y2="823.30" stroke="#222" stroke-width="0.9"/>
<text x="379.60" y="848.30" font-size="23.2" font-weight="normal" fill="#8c8c8c" textLength="169.60" lengthAdjust="spacingAndGlyphs" stroke="#fff" stroke-width="0.75" stroke-linejoin="round">White Americans</text>
<text x="435.10" y="866.70" font-size="14.8" font-weight="bold" textLength="36.30" lengthAdjust="spacingAndGlyphs" stroke="#fff" stroke-width="0.2" stroke-linejoin="round">were</text>
<text x="478.10" y="870.30" font-size="22.8" font-weight="bold" textLength="52.00" lengthAdjust="spacingAndGlyphs" stroke="#000" stroke-width="1.1" stroke-linejoin="round">61.1%</text>
<text x="535.20" y="867.10" font-size="14.8" font-weight="bold" textLength="14.20" lengthAdjust="spacingAndGlyphs" stroke="#fff" stroke-width="0.2" stroke-linejoin="round">of</text>
<text x="399.80" y="885.70" font-size="14.8" font-weight="bold" textLength="149.60" lengthAdjust="spacingAndGlyphs" stroke="#fff" stroke-width="0.2" stroke-linejoin="round">the U.S. population</text>
<text x="404.00" y="905.60" font-size="14.8" font-weight="bold" textLength="26.90" lengthAdjust="spacingAndGlyphs" stroke="#fff" stroke-width="0.2" stroke-linejoin="round">and</text>
<text x="436.50" y="908.20" font-size="22.8" font-weight="bold" textLength="65.10" lengthAdjust="spacingAndGlyphs" stroke="#000" stroke-width="1.1" stroke-linejoin="round">36.5%</text>
<text x="504.20" y="905.60" font-size="14.8" font-weight="bold" textLength="44.70" lengthAdjust="spacingAndGlyphs" stroke="#fff" stroke-width="0.2" stroke-linejoin="round">of the</text>
<text x="400.30" y="924.80" font-size="14.8" font-weight="bold" textLength="148.60" lengthAdjust="spacingAndGlyphs" stroke="#fff" stroke-width="0.2" stroke-linejoin="round">sheltered homeless</text>
<text x="440.30" y="942.70" font-size="14.8" font-weight="bold" textLength="108.60" lengthAdjust="spacingAndGlyphs" stroke="#fff" stroke-width="0.2" stroke-linejoin="round">population, or</text>
<text x="463.60" y="967.90" font-size="22.2" font-weight="bold" textLength="79.00" lengthAdjust="spacingAndGlyphs" stroke="#000" stroke-width="1.1" stroke-linejoin="round">517,172</text>
<text x="585.10" y="820.90" font-size="16.4" font-weight="normal" font-style="italic" fill="#111" textLength="134.80" lengthAdjust="spacingAndGlyphs" stroke="#fff" stroke-width="0.25" stroke-linejoin="round">but, also in 2017...</text>
<line x1="584.80" y1="823.40" x2="720.20" y2="823.40" stroke="#222" stroke-width="0.9"/>
<text x="585.30" y="848.40" font-size="23.2" font-weight="normal" fill="#8c8c8c" textLength="179.00" lengthAdjust="spacingAndGlyphs" stroke="#fff" stroke-width="0.75" stroke-linejoin="round">African Americans</text>
<text x="585.10" y="867.30" font-size="14.8" font-weight="bold" textLength="36.40" lengthAdjust="spacingAndGlyphs" stroke="#fff" stroke-width="0.2" stroke-linejoin="round">were</text>
<text x="627.00" y="870.70" font-size="22.8" font-weight="bold" textLength="60.00" lengthAdjust="spacingAndGlyphs" stroke="#000" stroke-width="1.1" stroke-linejoin="round">12.7%</text>
<text x="692.50" y="867.50" font-size="14.8" font-weight="bold" textLength="13.70" lengthAdjust="spacingAndGlyphs" stroke="#fff" stroke-width="0.2" stroke-linejoin="round">of</text>
<text x="585.10" y="885.40" font-size="14.8" font-weight="bold" textLength="148.40" lengthAdjust="spacingAndGlyphs" stroke="#fff" stroke-width="0.2" stroke-linejoin="round">the U.S. population</text>
<text x="585.10" y="906.00" font-size="14.8" font-weight="bold" textLength="26.30" lengthAdjust="spacingAndGlyphs" stroke="#fff" stroke-width="0.2" stroke-linejoin="round">and</text>
<text x="620.60" y="908.60" font-size="22.8" font-weight="bold" textLength="67.80" lengthAdjust="spacingAndGlyphs" stroke="#000" stroke-width="1.1" stroke-linejoin="round">43.0%</text>
<text x="694.50" y="906.00" font-size="14.8" font-weight="bold" textLength="44.50" lengthAdjust="spacingAndGlyphs" stroke="#fff" stroke-width="0.2" stroke-linejoin="round">of the</text>
<text x="585.10" y="925.20" font-size="14.8" font-weight="bold" textLength="148.40" lengthAdjust="spacingAndGlyphs" stroke="#fff" stroke-width="0.2" stroke-linejoin="round">sheltered homeless</text>
<text x="585.10" y="943.10" font-size="14.8" font-weight="bold" textLength="109.40" lengthAdjust="spacingAndGlyphs" stroke="#fff" stroke-width="0.2" stroke-linejoin="round">population, or</text>
<text x="584.70" y="967.60" font-size="22.2" font-weight="bold" textLength="95.00" lengthAdjust="spacingAndGlyphs" stroke="#000" stroke-width="1.1" stroke-linejoin="round">590,965</text>
</svg>
</body></html>
